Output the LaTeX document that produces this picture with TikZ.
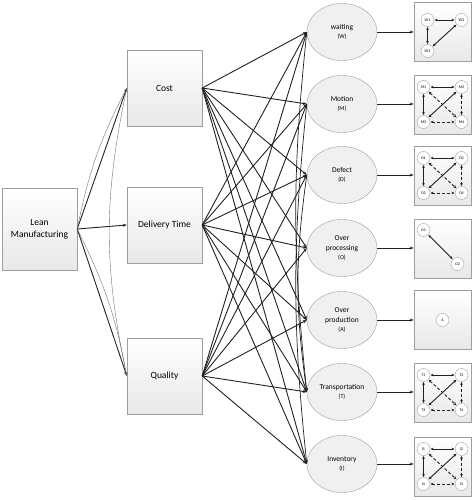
\documentclass[tikz,border=0pt]{standalone}
\usepackage{fontspec}
\setmainfont{Carlito}
\usetikzlibrary{arrows.meta,calc,positioning,shapes.geometric}
\definecolor{boxgray}{rgb}{0.91, 0.91, 0.91}
\definecolor{ellgray}{rgb}{0.94, 0.94, 0.94}
\definecolor{edgegray}{rgb}{0.62, 0.62, 0.62}
\definecolor{linegray}{rgb}{0.13, 0.13, 0.13}
\tikzset{
  factor/.style={
    rectangle,
    draw=edgegray,
    top color=white,
    bottom color=boxgray,
    align=center,
    minimum width=75pt,
    minimum height=76pt,
    inner sep=2pt,
    font=\fontsize{9.5}{12}\selectfont
  },
  desperdicio/.style={
    ellipse,
    draw=edgegray,
    fill=ellgray,
    align=center,
    minimum width=70pt,
    minimum height=57pt,
    inner sep=0pt,
    font=\fontsize{7.5}{10}\selectfont
  },
  panel/.style={
    rectangle,
    draw=edgegray,
    line width=0.8pt,
    top color=white,
    bottom color=boxgray,
    minimum width=57pt,
    minimum height=59pt
  },
  nodito/.style={
    circle,
    draw=edgegray,
    fill=white,
    minimum size=13pt,
    inner sep=0pt,
    font=\fontsize{4}{4}\selectfont
  },
  arrow/.style={
    -{Stealth[length=4pt,width=3pt]},
    line width=0.9pt,
    linegray
  },
  curva/.style={
    -{Stealth[length=3pt,width=2.5pt]},
    line width=0.4pt,
    black!55
  },
  enlace/.style={
    {Stealth[length=3pt,width=2.6pt]}-{Stealth[length=3pt,width=2.6pt]},
    line width=0.9pt,
    linegray,
    shorten <=0.3pt,
    shorten >=0.3pt
  },
  enlacep/.style={
    enlace,
    densely dashed
  }
}
\newcommand{\sub}[1]{\\[-1pt]{\fontsize{6}{7}\selectfont #1}}

\begin{document}
\begin{tikzpicture}[x=1pt, y=-1pt]
\useasboundingbox (0,0) rectangle (474,500);

% main factors
\node[factor, minimum height=82pt] (lean) at (39.5,229) {Lean\\Manufacturing};
\node[factor] (cost) at (164.5,88) {Cost};
\node[factor] (dt) at (164.5,225) {Delivery Time};
\node[factor] (qual) at (164.5,376) {Quality};

% wastes
\node[desperdicio] (w) at (342,32) {waiting\sub{(W)}};
\node[desperdicio] (m) at (342,104) {Motion\sub{(M)}};
\node[desperdicio] (d) at (342,175) {Defect\sub{(D)}};
\node[desperdicio] (o) at (342,248) {Over\\processing\sub{(O)}};
\node[desperdicio] (a) at (342,320) {Over\\production\sub{(A)}};
\node[desperdicio] (t) at (342,392) {Transportation\sub{(T)}};
\node[desperdicio] (i) at (342,464) {Inventory\sub{(I)}};

% panels
\node[panel] (pw) at (442.5,32) {};
\node[panel] (pm) at (442.5,105) {};
\node[panel] (pd) at (442.5,176) {};
\node[panel] (po) at (442.5,249) {};
\node[panel] (pa) at (442.5,320) {};
\node[panel] (pt) at (442.5,393) {};
\node[panel] (pi) at (442.5,467) {};

% lean to factors
\draw[arrow] (lean.east) -- (cost.west);
\draw[arrow] (lean.east) -- (dt.west);
\draw[arrow] (lean.east) -- (qual.west);
\draw[curva] (lean.east) to[bend left=8] (cost.west);
\draw[curva] (lean.east) to[bend left=8] (qual.west);
\draw[curva] (cost.west) to[bend right=12] (qual.west);

% factors to wastes
\foreach \f in {cost,dt,qual}
  \foreach \g in {w,m,d,o,a,t,i}
    \draw[arrow] (\f.east) -- (\g.west);
\draw[arrow, line width=0.7pt] (w.west) to[bend right=6] (t.west);
\draw[arrow, line width=0.7pt] (m.west) to[bend right=6] (i.west);
\draw[arrow, line width=0.7pt] (d.west) to[bend right=8] (t.west);

% wastes to panels
\foreach \g in {w,m,d,o,a,t,i}
  \draw[arrow] (\g.east) -- (p\g.west |- \g.east);

% waiting
\node[nodito] (w1) at ($(pw)+(-15,-12)$) {W1};
\node[nodito] (w2) at ($(pw)+(19,-12)$) {W2};
\node[nodito] (w3) at ($(pw)+(-15,19)$) {W3};
\draw[enlace] (w1) -- (w2);
\draw[enlace] (w1) -- (w3);
\draw[enlace] (w2) -- (w3);

% motion, defect, transportation, inventory
\foreach \p/\l/\a/\b/\c/\e in {pm/M/1/2/3/4, pd/D/1/2/3/4, pt/T/1/2/3/4, pi/I/1/2/4/3}{
  \node[nodito] (\p1) at ($(\p)+(-19,-18)$) {\l\a};
  \node[nodito] (\p2) at ($(\p)+(19,-18)$) {\l\b};
  \node[nodito] (\p3) at ($(\p)+(-19,17)$) {\l\c};
  \node[nodito] (\p4) at ($(\p)+(19,17)$) {\l\e};
  \draw[enlace] (\p1) -- (\p2);
  \draw[enlace] (\p1) -- (\p3);
  \draw[enlace] (\p3) -- (\p2);
  \draw[enlacep] (\p1) -- (\p4);
  \draw[enlacep] (\p2) -- (\p4);
  \draw[enlacep] (\p3) -- (\p4);
}

% over processing
\node[nodito] (o1) at ($(po)+(-19,-19)$) {O1};
\node[nodito] (o2) at ($(po)+(15,15)$) {O2};
\draw[enlace] (o1) -- (o2);

% over production
\node[nodito] (a1) at (pa) {A};
\end{tikzpicture}
\end{document}
